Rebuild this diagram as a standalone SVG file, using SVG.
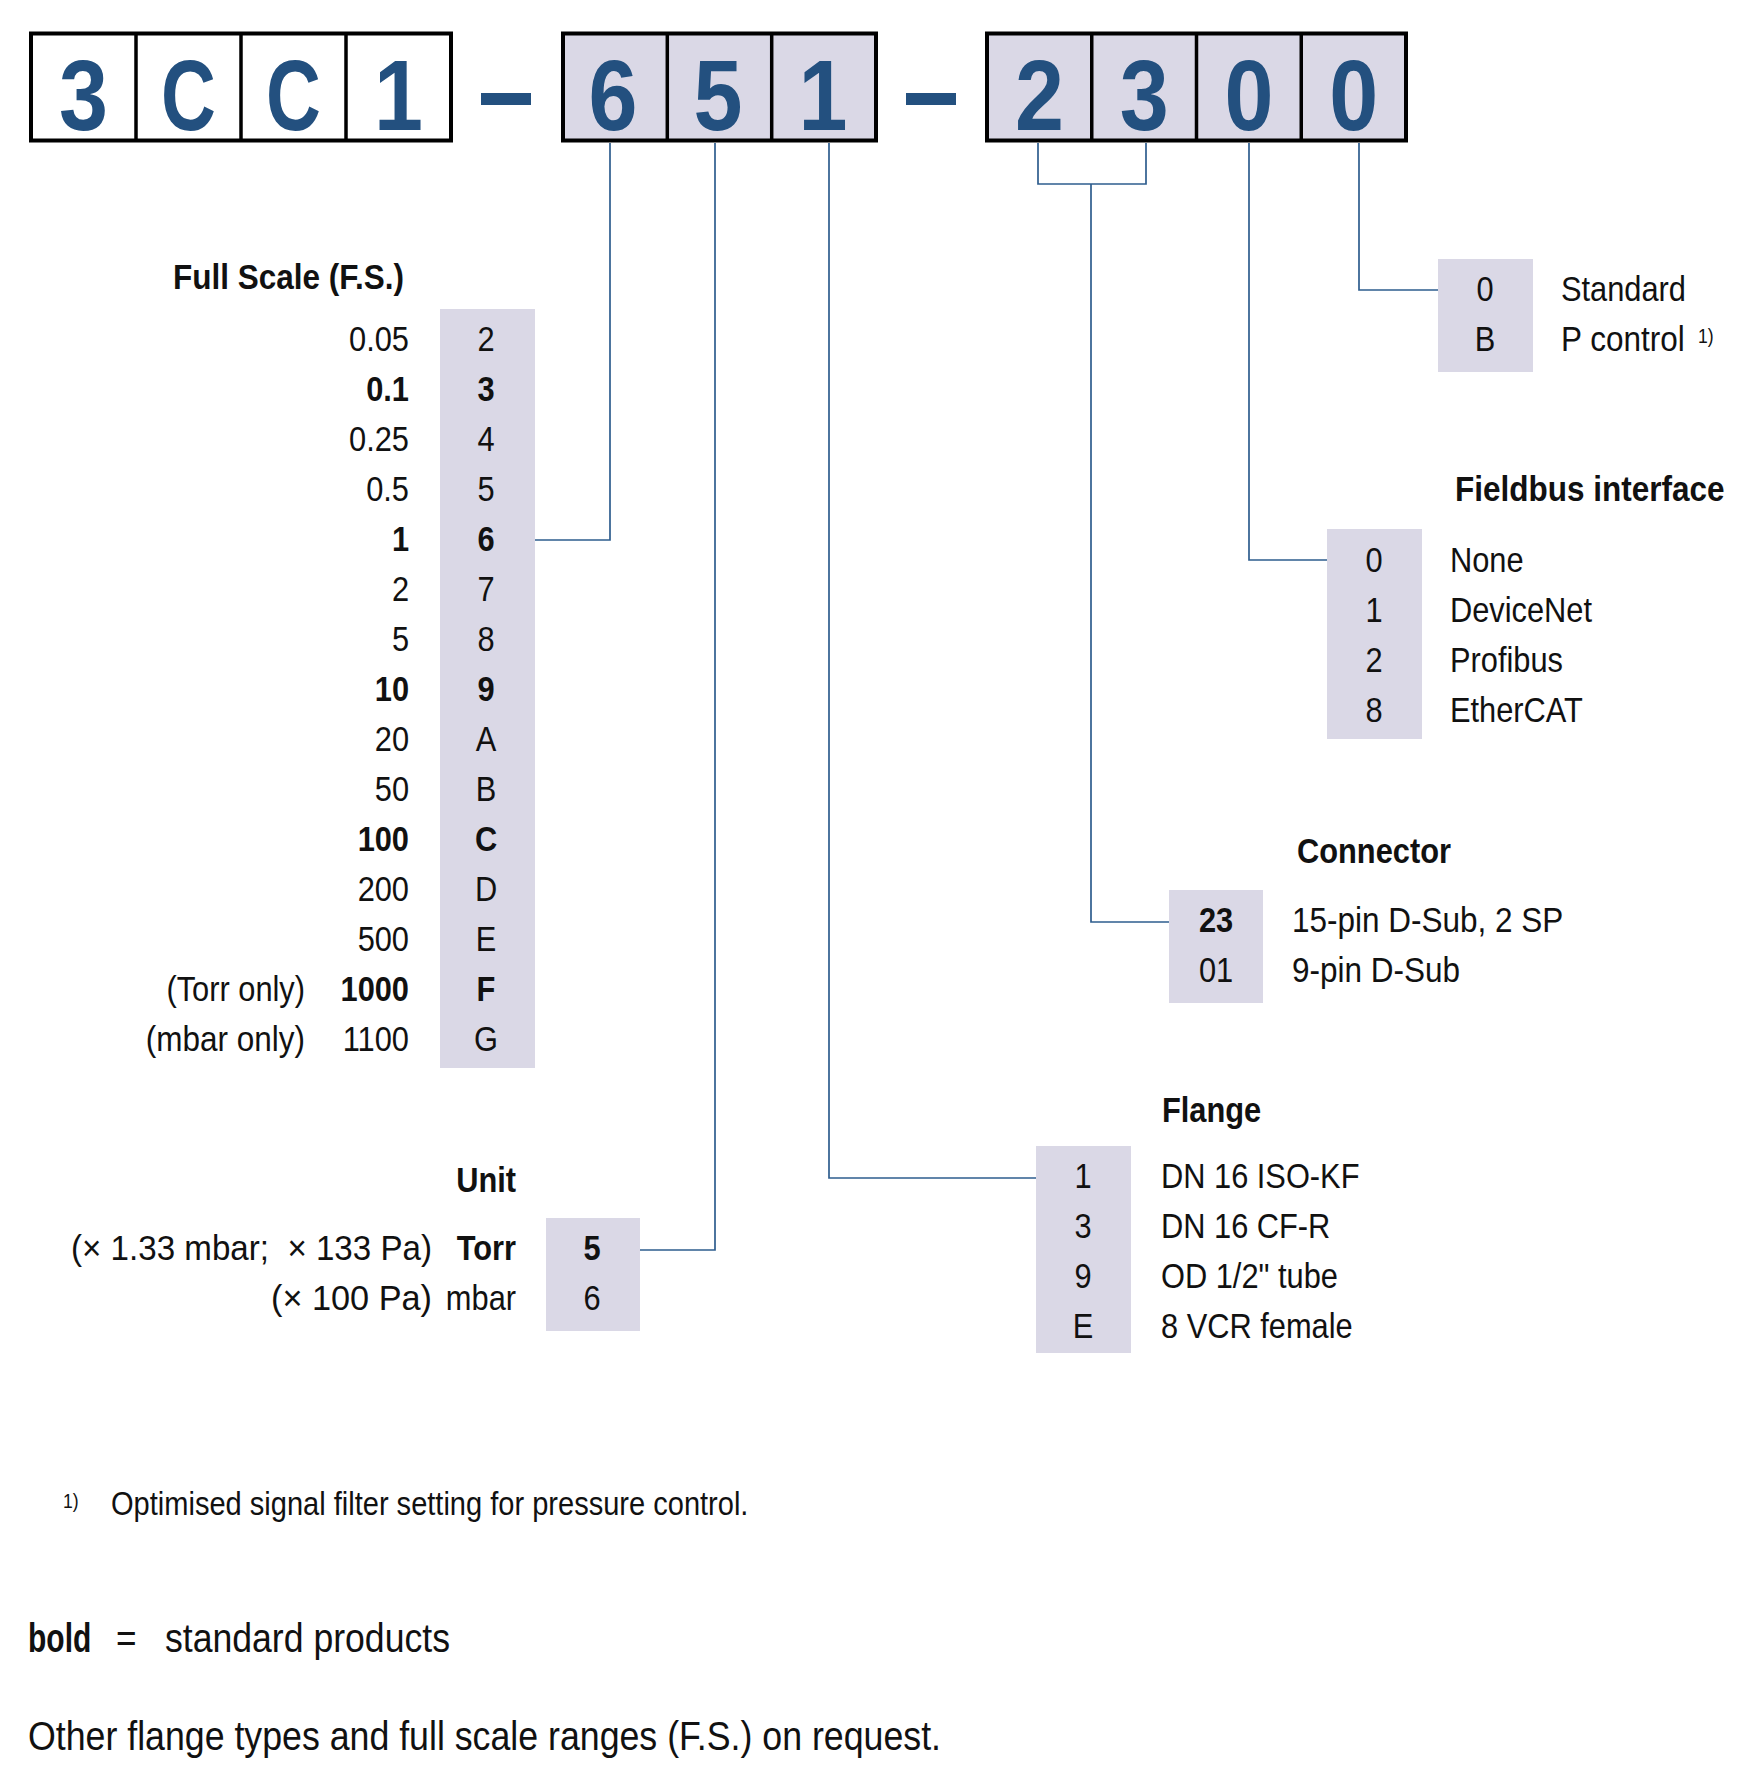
<svg xmlns="http://www.w3.org/2000/svg" width="1761" height="1783" viewBox="0 0 1761 1783">
<style>
text{font-family:"Liberation Sans",Arial,sans-serif;fill:#111;}
.t{font-size:35px;}
.b{font-weight:bold;}
.e{text-anchor:end;}
.m{text-anchor:middle;}
.big{font-size:100px;font-weight:bold;fill:#23507f;text-anchor:middle;}
.sup{font-size:20px;}
.fn{font-size:33px;}
.lg{font-size:40px;}
.cell{stroke:#000;stroke-width:4;}
.div{stroke:#000;stroke-width:3.5;}
.lav{fill:#dad8e6;}
.conn{fill:none;stroke:#2e5d8e;stroke-width:1.7;}
</style>
<rect width="1761" height="1783" fill="#fff"/>

<g id="code">
  <g id="code-group-1">
    <rect class="cell" x="31" y="33.5" width="420" height="107" fill="#fff"/>
    <line class="div" x1="136" y1="33.5" x2="136" y2="140.5"/>
    <line class="div" x1="241" y1="33.5" x2="241" y2="140.5"/>
    <line class="div" x1="346" y1="33.5" x2="346" y2="140.5"/>
    <text class="big" transform="translate(83.5 129.5) scale(.88 1)">3</text>
    <text class="big" transform="translate(188.5 129.5) scale(.76 1)">C</text>
    <text class="big" transform="translate(293.5 129.5) scale(.76 1)">C</text>
    <text class="big" transform="translate(398.5 129.5) scale(.88 1)">1</text>
  </g>
  <rect id="dash-1" x="481" y="93" width="50" height="12" fill="#23507f"/>
  <g id="code-group-2">
    <rect class="cell lav" x="563" y="33.5" width="313" height="107"/>
    <line class="div" x1="667.3" y1="33.5" x2="667.3" y2="140.5"/>
    <line class="div" x1="771.7" y1="33.5" x2="771.7" y2="140.5"/>
    <text class="big" transform="translate(613 129.5) scale(.88 1)">6</text>
    <text class="big" transform="translate(718 129.5) scale(.88 1)">5</text>
    <text class="big" transform="translate(823 129.5) scale(.88 1)">1</text>
  </g>
  <rect id="dash-2" x="906" y="93" width="50" height="12" fill="#23507f"/>
  <g id="code-group-3">
    <rect class="cell lav" x="987" y="33.5" width="419" height="107"/>
    <line class="div" x1="1091.75" y1="33.5" x2="1091.75" y2="140.5"/>
    <line class="div" x1="1196.5" y1="33.5" x2="1196.5" y2="140.5"/>
    <line class="div" x1="1301.25" y1="33.5" x2="1301.25" y2="140.5"/>
    <text class="big" transform="translate(1039.4 129.5) scale(.88 1)">2</text>
    <text class="big" transform="translate(1144.1 129.5) scale(.88 1)">3</text>
    <text class="big" transform="translate(1248.9 129.5) scale(.88 1)">0</text>
    <text class="big" transform="translate(1353.6 129.5) scale(.88 1)">0</text>
  </g>
</g>

<g id="connectors">
  <path class="conn" d="M610 143 V540 H535"/>
  <path class="conn" d="M715 143 V1250 H640"/>
  <path class="conn" d="M829 143 V1178 H1036"/>
  <path class="conn" d="M1038 143 V184 H1146 V143"/>
  <path class="conn" d="M1091 184 V922 H1169"/>
  <path class="conn" d="M1249 143 V560 H1327"/>
  <path class="conn" d="M1359 143 V290 H1438"/>
</g>

<g id="full-scale">
  <rect class="lav" x="440" y="309" width="95" height="759"/>
  <text class="t b" transform="translate(173 289) scale(.9 1)">Full Scale (F.S.)</text>
  <text class="t e" transform="translate(409 351) scale(.88 1)">0.05</text>
  <text class="t e b" transform="translate(409 401) scale(.88 1)">0.1</text>
  <text class="t e" transform="translate(409 451) scale(.88 1)">0.25</text>
  <text class="t e" transform="translate(409 501) scale(.88 1)">0.5</text>
  <text class="t e b" transform="translate(409 551) scale(.88 1)">1</text>
  <text class="t e" transform="translate(409 601) scale(.88 1)">2</text>
  <text class="t e" transform="translate(409 651) scale(.88 1)">5</text>
  <text class="t e b" transform="translate(409 701) scale(.88 1)">10</text>
  <text class="t e" transform="translate(409 751) scale(.88 1)">20</text>
  <text class="t e" transform="translate(409 801) scale(.88 1)">50</text>
  <text class="t e b" transform="translate(409 851) scale(.88 1)">100</text>
  <text class="t e" transform="translate(409 901) scale(.88 1)">200</text>
  <text class="t e" transform="translate(409 951) scale(.88 1)">500</text>
  <text class="t e b" transform="translate(409 1001) scale(.88 1)">1000</text>
  <text class="t e" transform="translate(409 1051) scale(.88 1)">1100</text>
  <text class="t e" transform="translate(305 1001) scale(.88 1)">(Torr only)</text>
  <text class="t e" transform="translate(305 1051) scale(.9 1)">(mbar only)</text>
  <text class="t m" transform="translate(486 351) scale(.88 1)">2</text>
  <text class="t m b" transform="translate(486 401) scale(.88 1)">3</text>
  <text class="t m" transform="translate(486 451) scale(.88 1)">4</text>
  <text class="t m" transform="translate(486 501) scale(.88 1)">5</text>
  <text class="t m b" transform="translate(486 551) scale(.88 1)">6</text>
  <text class="t m" transform="translate(486 601) scale(.88 1)">7</text>
  <text class="t m" transform="translate(486 651) scale(.88 1)">8</text>
  <text class="t m b" transform="translate(486 701) scale(.88 1)">9</text>
  <text class="t m" transform="translate(486 751) scale(.88 1)">A</text>
  <text class="t m" transform="translate(486 801) scale(.88 1)">B</text>
  <text class="t m b" transform="translate(486 851) scale(.88 1)">C</text>
  <text class="t m" transform="translate(486 901) scale(.88 1)">D</text>
  <text class="t m" transform="translate(486 951) scale(.88 1)">E</text>
  <text class="t m b" transform="translate(486 1001) scale(.88 1)">F</text>
  <text class="t m" transform="translate(486 1051) scale(.88 1)">G</text>
</g>

<g id="unit">
  <rect class="lav" x="546" y="1218" width="94" height="113"/>
  <text class="t b e" transform="translate(516 1192) scale(.88 1)">Unit</text>
  <text class="t" x="71" y="1260" textLength="361" lengthAdjust="spacingAndGlyphs" xml:space="preserve" style="white-space:pre">(× 1.33 mbar;  × 133 Pa)</text>
  <text class="t e b" transform="translate(516 1260) scale(.88 1)">Torr</text>
  <text class="t" x="271" y="1310" textLength="161" lengthAdjust="spacingAndGlyphs">(× 100 Pa)</text>
  <text class="t e" transform="translate(516 1310) scale(.88 1)">mbar</text>
  <text class="t m b" transform="translate(592 1260) scale(.88 1)">5</text>
  <text class="t m" transform="translate(592 1310) scale(.88 1)">6</text>
</g>

<g id="flange">
  <rect class="lav" x="1036" y="1146" width="95" height="207"/>
  <text class="t b" transform="translate(1162 1122) scale(.88 1)">Flange</text>
  <text class="t m" transform="translate(1083 1188) scale(.88 1)">1</text>
  <text class="t m" transform="translate(1083 1238) scale(.88 1)">3</text>
  <text class="t m" transform="translate(1083 1288) scale(.88 1)">9</text>
  <text class="t m" transform="translate(1083 1338) scale(.88 1)">E</text>
  <text class="t" transform="translate(1161 1188) scale(.88 1)">DN 16 ISO-KF</text>
  <text class="t" transform="translate(1161 1238) scale(.88 1)">DN 16 CF-R</text>
  <text class="t" transform="translate(1161 1288) scale(.88 1)">OD 1/2" tube</text>
  <text class="t" transform="translate(1161 1338) scale(.88 1)">8 VCR female</text>
</g>

<g id="connector">
  <rect class="lav" x="1169" y="890" width="94" height="113"/>
  <text class="t b" transform="translate(1297 863) scale(.88 1)">Connector</text>
  <text class="t m b" transform="translate(1216 932) scale(.88 1)">23</text>
  <text class="t m" transform="translate(1216 982) scale(.88 1)">01</text>
  <text class="t" transform="translate(1292 932) scale(.9 1)">15-pin D-Sub, 2 SP</text>
  <text class="t" transform="translate(1292 982) scale(.9 1)">9-pin D-Sub</text>
</g>

<g id="fieldbus">
  <rect class="lav" x="1327" y="529" width="95" height="210"/>
  <text class="t b" transform="translate(1455 501) scale(.9 1)">Fieldbus interface</text>
  <text class="t m" transform="translate(1374 572) scale(.88 1)">0</text>
  <text class="t m" transform="translate(1374 622) scale(.88 1)">1</text>
  <text class="t m" transform="translate(1374 672) scale(.88 1)">2</text>
  <text class="t m" transform="translate(1374 722) scale(.88 1)">8</text>
  <text class="t" transform="translate(1450 572) scale(.88 1)">None</text>
  <text class="t" transform="translate(1450 622) scale(.88 1)">DeviceNet</text>
  <text class="t" transform="translate(1450 672) scale(.88 1)">Profibus</text>
  <text class="t" transform="translate(1450 722) scale(.88 1)">EtherCAT</text>
</g>

<g id="control">
  <rect class="lav" x="1438" y="259" width="95" height="113"/>
  <text class="t m" transform="translate(1485 301) scale(.88 1)">0</text>
  <text class="t m" transform="translate(1485 351) scale(.88 1)">B</text>
  <text class="t" transform="translate(1561 301) scale(.88 1)">Standard</text>
  <text class="t" transform="translate(1561 351) scale(.9 1)">P control</text>
  <text class="sup" transform="translate(1698 343) scale(.88 1)">1)</text>
</g>

<g id="notes">
  <text class="sup" transform="translate(63 1508) scale(.88 1)">1)</text>
  <text class="fn" transform="translate(111 1515) scale(.88 1)">Optimised signal filter setting for pressure control.</text>
  <text class="lg b" transform="translate(28 1652) scale(.75 1)">bold</text>
  <text class="lg" transform="translate(116 1652) scale(.88 1)">=</text>
  <text class="lg" transform="translate(165 1652) scale(.89 1)">standard products</text>
  <text class="lg" transform="translate(28 1750) scale(.893 1)">Other flange types and full scale ranges (F.S.) on request.</text>
</g>
</svg>
